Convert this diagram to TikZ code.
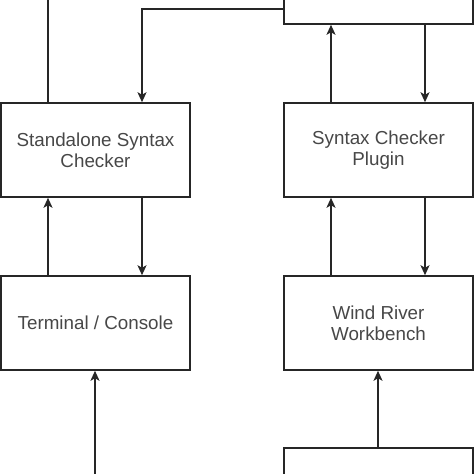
\documentclass[tikz,border=0pt]{standalone}
\usepackage{fontspec}
\setmainfont{Liberation Sans}
\usetikzlibrary{arrows.meta}
\begin{document}
\begin{tikzpicture}[x=1pt,y=-1pt,
  box/.style={draw=black!85,line width=1.5pt,minimum width=189pt,minimum height=94pt,inner sep=0pt,
    align=center,font=\fontsize{18.8}{21}\selectfont,text=black!72},
  conn/.style={draw=black!85,line width=1.5pt,-{Stealth[length=10pt,width=9pt,inset=2.5pt]}},
  plain/.style={draw=black!85,line width=1.5pt}]
\useasboundingbox (0,0) rectangle (474,474);
\node[box] (top) at (378.5,-23) {};
\node[box] (sa) at (95.5,150) {Standalone Syntax\\Checker};
\node[box] (scp) at (378.5,150) {Syntax Checker\\Plugin};
\node[box] (tc) at (95.5,323) {Terminal / Console};
\node[box] (wr) at (378.5,323) {Wind River\\Workbench};
\node[box] (bot) at (378.5,495) {};
\coordinate (ltop) at (48,-10);
\coordinate (lbot) at (95,490);
% connectors
\draw[plain] (ltop) -- (sa.north -| ltop);
\draw[conn] (top.west |- 0,9) -| (sa.north -| 142,0);
\draw[conn] (scp.north -| 331,0) -- (top.south -| 331,0);
\draw[conn] (top.south -| 425,0) -- (scp.north -| 425,0);
\draw[conn] (tc.north -| 48,0) -- (sa.south -| 48,0);
\draw[conn] (sa.south -| 142,0) -- (tc.north -| 142,0);
\draw[conn] (wr.north -| 331,0) -- (scp.south -| 331,0);
\draw[conn] (scp.south -| 425,0) -- (wr.north -| 425,0);
\draw[conn] (lbot) -- (tc.south -| lbot);
\draw[conn] (bot.north -| 378,0) -- (wr.south -| 378,0);
\end{tikzpicture}
\end{document}
